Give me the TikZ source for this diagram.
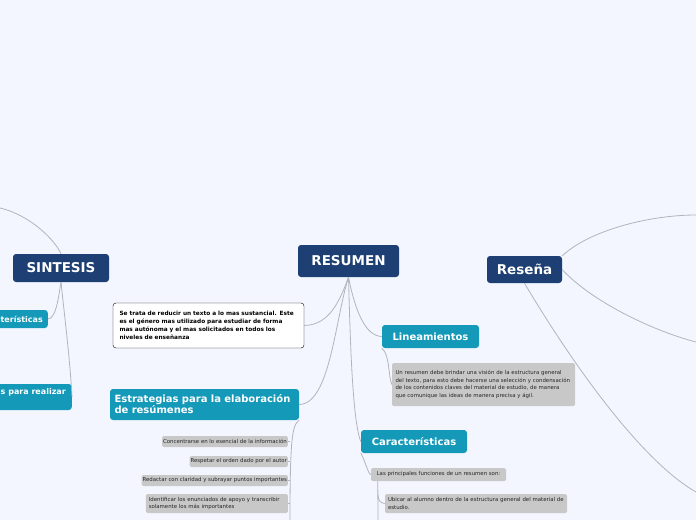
\documentclass[tikz,border=0pt]{standalone}
\usepackage{fontspec}
\setmainfont{DejaVu Sans}
\begin{document}
\begin{tikzpicture}[x=1pt,y=-1pt,
 main/.style={fill=dkb,rounded corners=3pt,text=white,font=\bfseries\fontsize{13.5}{16}\selectfont,inner sep=0pt},
 sub/.style={fill=teal1,rounded corners=3pt,text=white,font=\bfseries\fontsize{10}{11}\selectfont\hyphenpenalty10000,inner sep=0pt,align=left},
 leaf/.style={fill=gry,rounded corners=1.5pt,text=black!85,font=\fontsize{5.4}{7.6}\selectfont\hyphenpenalty10000,inner sep=0pt,align=left},
 con/.style={draw=lin,line width=0.8pt}]
\definecolor{dkb}{HTML}{1D3F73}
\definecolor{teal1}{HTML}{1499B9}
\definecolor{gry}{HTML}{C8C8C8}
\definecolor{lin}{HTML}{B0B4BC}
\definecolor{bg}{HTML}{F3F6FE}
\fill[bg] (0,0) rectangle (696,520);
\useasboundingbox (0,0) rectangle (696,520);
\clip (0,0) rectangle (696,520);
% nodes
\node[main,minimum width=101,minimum height=32] (res) at (348.5,261) {RESUMEN};
\node[main,minimum width=96,minimum height=28] (sin) at (61,268) {SINTESIS};
\node[main,minimum width=75,minimum height=27] (rese) at (524.5,269.5) {Reseña};
\node[draw=black,fill=white,rounded corners=3pt,minimum width=191,minimum height=45,align=left,font=\bfseries\fontsize{5.8}{8.2}\selectfont\hyphenpenalty10000,text width=178] (def) at (208.5,325.5) {Se trata de reducir un texto a lo mas sustancial. Este es el género mas utilizado para estudiar de forma mas autónoma y el mas solicitados en todos los niveles de enseñanza};
\node[sub,minimum width=97,minimum height=23] (lin) at (430.5,336.5) {Lineamientos};
\node[leaf,minimum width=183,minimum height=43,text width=176] (lintx) at (483.5,384.5) {Un resumen debe brindar una visión de la estructura general del texto, para esto debe hacerse una selección y condensación de los contenidos claves del material de estudio, de manera que comunique las ideas de manera precisa y ágil.};
\node[sub,minimum width=106,minimum height=23] (car) at (414,441.5) {Características};
\node[leaf,minimum width=135,minimum height=13] (fun) at (438.5,474.5) {Las principales funciones de un resumen son:};
\node[leaf,minimum width=182,minimum height=19,text width=176] (ubi) at (476,503.5) {Ubicar al alumno dentro de la estructura general del material de estudio.};
\node[sub,minimum width=189,minimum height=31,text width=180] (est) at (204.5,404.5) {Estrategias para la elaboración de resúmenes};
\node[leaf,anchor=east,minimum height=11] (l1) at (288,441.5) {\,Concentrarse en lo esencial de la información\,};
\node[leaf,anchor=east,minimum height=11] (l2) at (288,461.5) {\,Respetar el orden dado por el autor\,};
\node[leaf,anchor=east,minimum height=11] (l3) at (288,480.5) {\,Redactar con claridad y subrayar puntos importantes\,};
\node[leaf,anchor=east,minimum height=19,minimum width=142,text width=136] (l4) at (288,503.5) {Identificar los enunciados de apoyo y transcribir solamente los más importantes};
\node[sub,anchor=east,minimum height=18,inner xsep=5pt,font=\bfseries\fontsize{8}{9}\selectfont] (scar) at (48,319) {Características};
\node[sub,anchor=east,minimum height=26,inner xsep=6pt,align=left,font=\bfseries\fontsize{8}{10}\selectfont] (sest) at (72,397) {Estrategias para realizar\\la síntesis\hphantom{para realizar}};
\coordinate (sa) at (0,208);
\coordinate (ra) at (696,215);
\coordinate (rb) at (696,342);
\coordinate (rc) at (696,492);
\coordinate (ebot) at (290,520);
\coordinate (cbot) at (378,520);
% connectors
\draw[con] (sin.north) .. controls (55,240) and (30,215) .. (sa);
\draw[con] (sin.south) .. controls (58,300) and (56,318) .. (scar.east);
\draw[con] (sin.south) .. controls (65,320) and (70,360) .. (sest.east);
\draw[con] (rese.north east) .. controls (590,230) and (650,215) .. (ra);
\draw[con] (rese.east) .. controls (590,300) and (650,330) .. (rb);
\draw[con] (rese.south) .. controls (570,360) and (640,460) .. (rc);
\draw[con] (res.south) .. controls (340,300) and (330,325) .. (def.east);
\draw[con] (res.south) .. controls (355,310) and (365,336) .. (lin.west);
\draw[con] (res.south) .. controls (350,330) and (352,420) .. (car.west);
\draw[con] (res.south) .. controls (335,320) and (330,404) .. (est.east);
\draw[con] (lin.south west) .. controls (390,355) and (388,375) .. (lintx.west);
\draw[con] (est.south east) .. controls (292,425) and (290,440) .. (ebot);
\foreach \n in {l1,l2,l3,l4} \draw[con] (\n.east) -- ++(2,0);
\draw[con] (car.south west) .. controls (365,460) and (368,474) .. (fun.west);
\draw[con] (fun.south west) ++(7,0) -- (cbot);
\draw[con] (378,495) .. controls (378,500) and (380,503) .. (ubi.west);
\end{tikzpicture}
\end{document}
